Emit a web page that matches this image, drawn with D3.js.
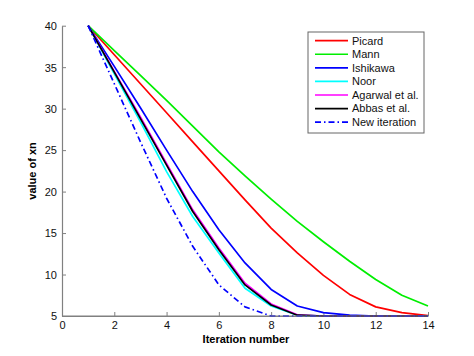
<!DOCTYPE html>
<html><head><meta charset="utf-8">
<script src="https://cdn.jsdelivr.net/npm/d3@7"></script>
<style>body{margin:0;background:#fff;} svg{display:block;}</style>
</head><body>
<svg id="c" width="474" height="356"></svg>
<script>
const iterations = [1,2,3,4,5,6,7,8,9,10,11,12,13,14];
const picard   = [40,36.5,33.0,29.5,26.0,22.5,19.0,15.6,12.6,9.9,7.6,6.1,5.4,5.05];
const mann     = [40,37.0,34.0,31.0,27.9,24.8,21.9,19.1,16.4,13.95,11.6,9.4,7.5,6.2];
const ishikawa = [40,35.1,30.1,25.0,20.0,15.4,11.4,8.2,6.2,5.4,5.1,5.0,5.0,5.0];
const noor     = [40,34.2,28.4,22.4,17.0,12.6,8.35,6.2,5.1,5.0,5.0,5.0,5.0,5.0];
const agarwal  = [40,34.5,29.0,23.4,17.8,13.2,8.95,6.45,5.15,5.0,5.0,5.0,5.0,5.0];
const abbas    = [40,34.4,28.8,23.2,17.6,13.0,8.75,6.33,5.1,5.0,5.0,5.0,5.0,5.0];
const newIter  = [40,33.0,26.0,19.2,13.4,8.75,6.1,5.0,5.0,5.0,5.0,5.0,5.0,5.0];
const seriesNames = ["Picard","Mann","Ishikawa","Noor","Agarwal et al.","Abbas et al.","New iteration"];
const seriesValues = [picard,mann,ishikawa,noor,agarwal,abbas,newIter];
const seriesColors = ["#ff0000","#00ee00","#0000ff","#00ffff","#ff00ff","#000000","#0000ff"];
const seriesDash = [null,null,null,null,null,null,"6,3,1.5,3"];
const xTicks = [0,2,4,6,8,10,12,14];
const yTicks = [5,10,15,20,25,30,35,40];

const svg = d3.select("#c");
const L=62, R=428, T=25.7, B=316;
const x = d3.scaleLinear().domain([0,14]).range([L,R]);
const y = d3.scaleLinear().domain([5,40]).range([B,T]);
const font = "Liberation Sans, Arial, Helvetica, sans-serif";
const axisColor = "#808080";

// axes
const xAxis = svg.append("g").attr("transform",`translate(0,${B})`)
  .call(d3.axisBottom(x).tickValues(xTicks).tickSizeInner(-4).tickSizeOuter(0).tickPadding(6));
const yAxis = svg.append("g").attr("transform",`translate(${L},0)`)
  .call(d3.axisLeft(y).tickValues(yTicks).tickSizeInner(-4).tickSizeOuter(0).tickPadding(5));
[xAxis,yAxis].forEach(a=>{
  a.select(".domain").attr("stroke",axisColor).attr("stroke-width",1.2);
  a.selectAll(".tick line").attr("stroke",axisColor);
  a.selectAll(".tick text").attr("fill","#111").style("font-family",font).style("font-size","11px");
});
xAxis.selectAll(".tick text").attr("dy","0.6em");
yAxis.selectAll(".tick text").attr("dy","0.35em");

// lines
const line = d3.line().x((d,i)=>x(iterations[i])).y(d=>y(d));
seriesValues.forEach((vals,k)=>{
  svg.append("path").datum(vals)
    .attr("d",line).attr("fill","none")
    .attr("stroke",seriesColors[k]).attr("stroke-width",1.7)
    .attr("stroke-linejoin","round")
    .attr("stroke-dasharray",seriesDash[k]);
});
// redraw axis domain on top
svg.append("line").attr("x1",L).attr("x2",R).attr("y1",B).attr("y2",B).attr("stroke",axisColor).attr("stroke-width",1.2);

// labels
svg.append("text").attr("x",246).attr("y",343)
  .attr("text-anchor","middle").style("font-family",font).style("font-size","11px").style("font-weight","bold")
  .text("Iteration number");
svg.append("text").attr("transform","translate(36,171) rotate(-90)")
  .attr("text-anchor","middle").style("font-family",font).style("font-size","11px").style("font-weight","bold")
  .text("value of xn");

// legend
const lg = svg.append("g");
lg.append("rect").attr("x",308).attr("y",32).attr("width",116).attr("height",101)
  .attr("fill","#fff").attr("stroke","#666").attr("stroke-width",1);
seriesNames.forEach((n,k)=>{
  const yy = 40.7 + 13.57*k;
  lg.append("line").attr("x1",315).attr("x2",348).attr("y1",yy).attr("y2",yy)
    .attr("stroke",seriesColors[k]).attr("stroke-width",1.7).attr("stroke-dasharray",seriesDash[k]);
  lg.append("text").attr("x",352).attr("y",yy).attr("dy","0.35em")
    .style("font-family",font).style("font-size","11px").attr("fill","#111").text(n);
});
</script>
</body></html>
